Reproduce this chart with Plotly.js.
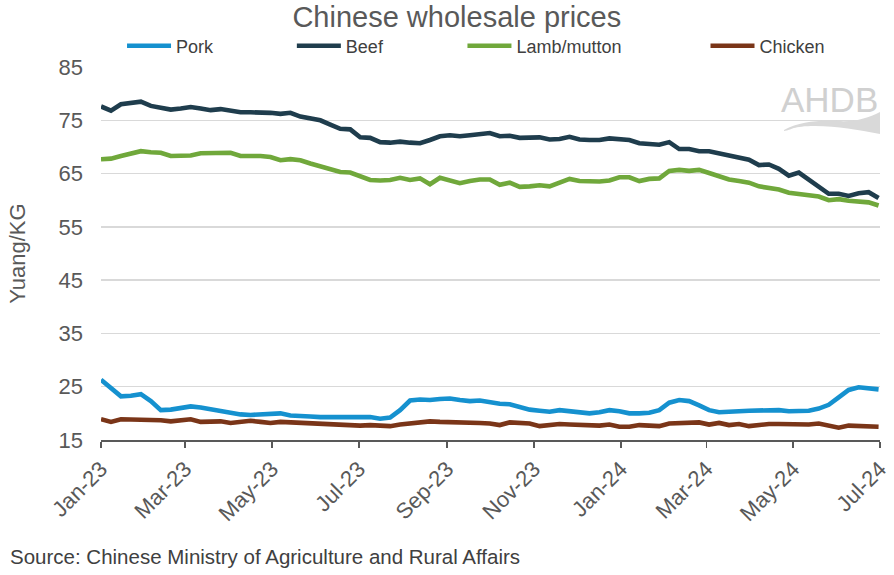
<!DOCTYPE html>
<html>
<head>
<meta charset="utf-8">
<script src="https://cdn.plot.ly/plotly-3.0.1.min.js"></script>
<style>
  html, body { margin: 0; padding: 0; background: #ffffff; }
  #chart { width: 894px; height: 575px; }
</style>
</head>
<body>
<div id="chart"></div>
<script>
// Weekly wholesale prices (Yuan/kg), first week of Jan 2023 to end of Jun 2024
const firstWeek = '2023-01-01';
const weekCount = 79;

const pork = [
  26.3, 24.7, 23.2, 23.3, 23.6, 22.3, 20.6, 20.7, 20.9, 21.3,
  21.1, 20.8, 20.4, 20.0, 19.8, 19.7, 19.8, 19.9, 20.0, 19.6,
  19.4, 19.4, 19.3, 19.3, 19.3, 19.3, 19.3, 19.3, 19.0, 19.2,
  20.6, 22.4, 22.6, 22.5, 22.7, 22.8, 22.5, 22.3, 22.4, 22.0,
  21.8, 21.7, 21.2, 20.7, 20.5, 20.3, 20.6, 20.4, 20.2, 20.0,
  20.2, 20.6, 20.4, 20.0, 20.0, 20.1, 20.6, 22.0, 22.5, 22.3,
  21.5, 20.6, 20.2, 20.2, 20.4, 20.5, 20.6, 20.7, 20.6, 20.4,
  20.5, 20.5, 20.9, 21.6, 23.0, 24.4, 24.9, 24.8, 24.5
];

const beef = [
  77.6, 76.8, 78.0, 78.3, 78.5, 77.7, 77.3, 77.0, 77.2, 77.5,
  77.2, 76.9, 77.1, 76.8, 76.5, 76.5, 76.5, 76.4, 76.2, 76.4,
  75.7, 75.4, 75.0, 74.2, 73.4, 73.3, 71.8, 71.7, 70.9, 70.8,
  71.0, 70.8, 70.7, 71.3, 72.0, 72.2, 72.0, 72.2, 72.5, 72.6,
  72.0, 72.1, 71.7, 71.7, 71.8, 71.4, 71.5, 71.9, 71.4, 71.3,
  71.3, 71.6, 71.5, 71.3, 70.7, 70.5, 70.4, 70.9, 69.6, 69.6,
  69.2, 69.2, 68.8, 68.5, 68.1, 67.6, 66.6, 66.7, 65.9, 64.6,
  65.2, 63.9, 62.6, 61.2, 61.2, 60.8, 61.3, 61.5, 60.4
];

const lamb = [
  67.7, 67.8, 68.3, 68.8, 69.2, 69.0, 68.9, 68.3, 68.3, 68.4,
  68.8, 68.9, 68.9, 68.9, 68.3, 68.4, 68.3, 68.1, 67.5, 67.7,
  67.5, 66.9, 66.4, 65.9, 65.3, 65.2, 64.5, 63.8, 63.7, 63.8,
  64.2, 63.8, 64.1, 63.0, 64.2, 63.8, 63.2, 63.6, 63.9, 63.9,
  62.9, 63.3, 62.5, 62.6, 62.8, 62.6, 63.4, 64.0, 63.6, 63.5,
  63.5, 63.7, 64.3, 64.3, 63.6, 64.0, 64.1, 65.5, 65.7, 65.5,
  65.7, 65.1, 64.4, 63.9, 63.6, 63.3, 62.6, 62.4, 62.0, 61.4,
  61.2, 61.1, 60.7, 60.0, 60.2, 59.9, 59.8, 59.6, 59.0
];

const chicken = [
  18.9, 18.4, 18.9, 18.9, 18.9, 18.9, 18.7, 18.5, 18.7, 18.9,
  18.4, 18.5, 18.5, 18.2, 18.3, 18.6, 18.4, 18.2, 18.4, 18.3,
  18.3, 18.2, 18.0, 17.9, 17.7, 17.8, 17.7, 17.8, 17.6, 17.6,
  17.9, 18.1, 18.5, 18.5, 18.4, 18.4, 18.4, 18.4, 18.2, 18.1,
  17.8, 18.3, 18.3, 18.1, 17.6, 17.8, 18.0, 17.9, 17.8, 17.8,
  17.7, 17.9, 17.5, 17.5, 17.8, 17.7, 17.6, 18.1, 18.1, 18.3,
  18.3, 17.9, 18.2, 17.8, 18.0, 17.6, 17.9, 18.0, 18.0, 17.9,
  17.8, 17.9, 18.1, 17.7, 17.3, 17.7, 17.6, 17.5, 17.5
];

const seriesNames = ['Pork', 'Beef', 'Lamb/mutton', 'Chicken'];
const seriesColors = ['#1591cf', '#1f3d4d', '#70a83b', '#7a3518'];
const seriesValues = [pork, beef, lamb, chicken];

// Weekly date stamps for the x axis
const weeks = [];
{
  const d0 = new Date(firstWeek + 'T00:00:00Z');
  for (let i = 0; i < weekCount; i++) {
    const d = new Date(d0.getTime() + i * 7 * 86400000);
    weeks.push(d.toISOString().slice(0, 10));
  }
}

const FONT = 'Liberation Sans, Arial, sans-serif';
const legendIds = ['legend', 'legend2', 'legend3', 'legend4'];
const legendX = [0.027, 0.245, 0.464, 0.776];

const traces = seriesNames.map((name, k) => ({
  type: 'scatter',
  mode: 'lines',
  name: name,
  x: weeks,
  y: seriesValues[k],
  line: { color: seriesColors[k], width: 4.6 },
  legend: legendIds[k],
  hoverinfo: 'x+y+name'
}));

const legendBase = {
  orientation: 'h',
  y: 1.056,
  yanchor: 'middle',
  xanchor: 'left',
  bgcolor: 'rgba(0,0,0,0)',
  font: { family: FONT, size: 18, color: '#404040' },
  itemwidth: 44
};
const layout = {
  width: 894,
  height: 575,
  margin: { l: 101, r: 14, t: 67, b: 135 },
  paper_bgcolor: '#ffffff',
  plot_bgcolor: '#ffffff',
  font: { family: FONT, color: '#595959' },
  showlegend: true,
  title: {
    text: 'Chinese wholesale prices',
    font: { family: FONT, size: 29, color: '#595959' },
    xref: 'container', x: 0.511, xanchor: 'center',
    yref: 'container', y: 0.97, yanchor: 'middle'
  },
  xaxis: {
    type: 'date',
    range: ['2023-01-01', '2024-07-01'],
    tick0: '2023-01-01',
    dtick: 'M2',
    tickformat: '%b-%y',
    tickangle: -45,
    tickfont: { family: FONT, size: 22, color: '#595959' },
    ticks: 'outside',
    ticklen: 6,
    tickcolor: '#595959',
    tickwidth: 1.5,
    showline: true,
    linecolor: '#595959',
    linewidth: 1.5,
    showgrid: false,
    zeroline: false,
    fixedrange: true
  },
  yaxis: {
    range: [15, 85],
    dtick: 10,
    tick0: 15,
    tickfont: { family: FONT, size: 22, color: '#595959' },
    ticklabelstandoff: 17,
    showgrid: true,
    gridcolor: '#d9d9d9',
    gridwidth: 1.3,
    showline: false,
    zeroline: false,
    title: {
      text: 'Yuang/KG',
      font: { family: FONT, size: 22, color: '#595959' },
      standoff: 26
    },
    fixedrange: true
  },
  annotations: [
    {
      text: 'Source: Chinese Ministry of Agriculture and Rural Affairs',
      xref: 'paper', yref: 'paper',
      x: -0.1194, y: -0.311, xanchor: 'left', yanchor: 'middle',
      showarrow: false,
      font: { family: FONT, size: 20.5, color: '#404040' }
    },
    {
      text: 'AHDB',
      xref: 'paper', yref: 'paper',
      x: 1.0, y: 0.912, xanchor: 'right', yanchor: 'middle',
      showarrow: false,
      font: { family: FONT, size: 35, color: '#d0d0d0' }
    }
  ],
  shapes: []
};

// AHDB swoosh, drawn in paper coordinates from pixel offsets of the plot area
(function () {
  const L = 101, T = 67, W = 779, H = 373;
  const px = (x) => ((x - L) / W).toFixed(4);
  const py = (y) => (1 - (y - T) / H).toFixed(4);
  let d = 'M ' + px(784) + ' ' + py(130);
  d += ' C ' + px(800) + ' ' + py(121) + ' ' + px(820) + ' ' + py(120) + ' ' + px(838) + ' ' + py(121);
  d += ' S ' + px(868) + ' ' + py(118) + ' ' + px(880) + ' ' + py(112);
  d += ' L ' + px(880) + ' ' + py(134);
  d += ' C ' + px(858) + ' ' + py(130) + ' ' + px(838) + ' ' + py(126) + ' ' + px(815) + ' ' + py(126);
  d += ' S ' + px(792) + ' ' + py(130) + ' ' + px(784) + ' ' + py(131);
  d += ' Z';
  layout.shapes.push({
    type: 'path', xref: 'paper', yref: 'paper', path: d,
    fillcolor: '#d9d9d9', line: { width: 0 }, layer: 'above'
  });
})();

legendIds.forEach((id, k) => {
  layout[id] = Object.assign({}, legendBase, { x: legendX[k] });
});

Plotly.newPlot('chart', traces, layout, { displayModeBar: false, responsive: false, staticPlot: true });
</script>
</body>
</html>
